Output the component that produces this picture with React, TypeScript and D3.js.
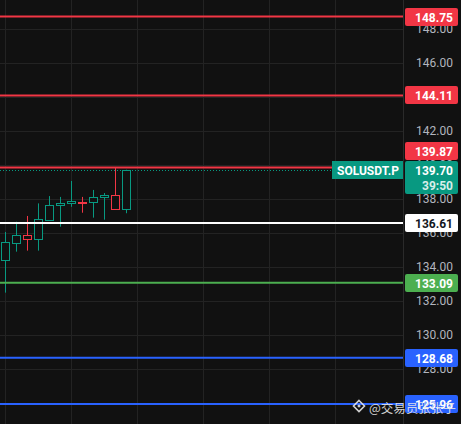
import React from "react";
import * as d3 from "d3";

// ---- data ----
const candleIndex = [0, 1, 2, 3, 4, 5, 6, 7, 8, 9, 10, 11];
const opens = [134.45, 135.45, 135.88, 135.65, 136.8, 137.65, 137.76, 137.86, 137.82, 138.12, 138.24, 137.43];
const highs = [136.08, 136.68, 137.02, 137.76, 138.19, 138.14, 139.08, 138.14, 138.55, 138.37, 139.87, 139.74];
const lows = [132.51, 134.92, 134.98, 134.98, 136.8, 136.39, 137.56, 137.21, 136.92, 136.8, 137.41, 137.18];
const closes = [135.47, 135.88, 135.65, 136.82, 137.65, 137.76, 137.88, 137.84, 138.12, 138.24, 137.41, 139.7];

const tickValues = [148, 146, 144, 142, 140, 138, 136, 134, 132, 130, 128, 126];
const timeGridIndex = [0, 6, 12, 18, 24, 30];

const levelValues = [148.75, 144.11, 139.87, 136.61, 133.09, 128.68, 125.96];
const levelKinds = ["red", "red", "red", "white", "green", "blue", "blue"];

const symbol = "SOLUSDT.P";
const lastPrice = 139.7;
const countdown = "39:50";
const watermark = "@交易员张张子";

// ---- styles ----
const W = 461;
const H = 424;
const PLOT_R = 403;
const BG = "#111111";
const GRID = "#232323";
const UP = "#089981";
const DOWN = "#f23645";
const KIND_COLORS: Record<string, { fill: string; text: string }> = {
  red: { fill: "#f23645", text: "#ffffff" },
  white: { fill: "#ffffff", text: "#131722" },
  green: { fill: "#4caf50", text: "#ffffff" },
  blue: { fill: "#2962ff", text: "#ffffff" },
};
const FONT = "Roboto, 'Noto Sans', sans-serif";

export default function App() {
  const y = d3.scaleLinear().domain([148, 128]).range([29.3, 369.3]);
  const x = d3.scaleLinear().domain([0, 1]).range([5.5, 16.5]);
  const fmt = d3.format(".2f");

  const lastY = y(lastPrice);
  const curTop = Math.round(lastY) - 9;
  const curH = 33;

  const labelH = 18;
  const levelLabels = levelValues.map((v, i) => {
    let cy = Math.round(y(v));
    let top = cy - labelH / 2;
    // avoid overlap with current price box
    if (top + labelH > curTop && top < curTop + curH) {
      top = curTop - labelH - 1;
    }
    return { v, kind: levelKinds[i], ly: Math.round(y(v)), top };
  });

  return (
    <svg
      width={W}
      height={H}
      style={{ position: "fixed", left: 0, top: 0, display: "block" }}
      fontFamily={FONT}
    >
      <rect x={0} y={0} width={W} height={H} fill={BG} />
      {/* grid */}
      {tickValues.map((t) => (
        <line key={"hg" + t} x1={0} x2={PLOT_R} y1={Math.round(y(t)) + 0.5} y2={Math.round(y(t)) + 0.5} stroke={GRID} strokeWidth={1} />
      ))}
      {timeGridIndex.map((i) => (
        <line key={"vg" + i} x1={x(i)} x2={x(i)} y1={0} y2={H} stroke={GRID} strokeWidth={1} />
      ))}
      <line x1={PLOT_R + 0.5} x2={PLOT_R + 0.5} y1={0} y2={H} stroke="#2a2a2a" strokeWidth={1} />

      {/* axis tick labels */}
      {tickValues.map((t) => (
        <text key={"tl" + t} x={453} y={y(t)} textAnchor="end" dominantBaseline="central" fontSize={12} fill="#b2b5be">
          {fmt(t)}
        </text>
      ))}

      {/* candles */}
      {candleIndex.map((i) => {
        const o = opens[i], c = closes[i], h = highs[i], l = lows[i];
        const col = c >= o ? UP : DOWN;
        const cx = x(i);
        const top = Math.round(y(Math.max(o, c))) + 0.5;
        const bot = Math.round(y(Math.min(o, c))) + 0.5;
        return (
          <g key={"c" + i}>
            <line x1={cx} x2={cx} y1={y(h)} y2={y(l)} stroke={col} strokeWidth={1} />
            <rect x={cx - 4} y={top} width={8} height={Math.max(bot - top, 1)} fill={BG} stroke={col} strokeWidth={1} />
          </g>
        );
      })}

      {/* current price dotted line */}
      <line x1={0} x2={332} y1={Math.round(lastY) + 0.5} y2={Math.round(lastY) + 0.5} stroke={UP} strokeWidth={1} strokeDasharray="1 2" />

      {/* level lines */}
      {levelLabels.map((d) => (
        <line key={"lv" + d.v} x1={0} x2={PLOT_R} y1={y(d.v)} y2={y(d.v)} stroke={KIND_COLORS[d.kind].fill} strokeWidth={2} />
      ))}

      {/* symbol label */}
      <rect x={332} y={curTop} width={71} height={labelH} fill={UP} />
      <text x={337} y={curTop + labelH / 2 + 0.5} dominantBaseline="central" fontSize={12} fontWeight="bold" fill="#ffffff">
        {symbol}
      </text>

      {/* level labels */}
      {levelLabels.map((d) => (
        <g key={"ll" + d.v}>
          <rect x={405} y={d.top} width={53} height={labelH} rx={2} fill={KIND_COLORS[d.kind].fill} />
          <text x={453} y={d.top + labelH / 2 + 0.5} textAnchor="end" dominantBaseline="central" fontSize={12} fontWeight="bold" fill={KIND_COLORS[d.kind].text}>
            {fmt(d.v)}
          </text>
        </g>
      ))}

      {/* current price label */}
      <rect x={405} y={curTop} width={53} height={curH} rx={2} fill={UP} />
      <text x={453} y={curTop + 9.5} textAnchor="end" dominantBaseline="central" fontSize={12} fontWeight="bold" fill="#ffffff">
        {fmt(lastPrice)}
      </text>
      <text x={453} y={curTop + 25} textAnchor="end" dominantBaseline="central" fontSize={12} fontWeight="bold" fill="#ffffff" fillOpacity={0.85}>
        {countdown}
      </text>

      {/* watermark */}
      <g transform="translate(359,406)" fill="none" stroke="#e8e8e8" strokeWidth={1.6} opacity={0.9}>
        <path d="M0,-5.5 L5.5,0 L0,5.5 L-5.5,0 Z" />
        <path d="M0,-1.8 L1.8,0 L0,1.8 L-1.8,0 Z" fill="#e8e8e8" stroke="none" />
      </g>
      <text x={369} y={407} dominantBaseline="central" fontSize={12.5} fill="#e8e8e8" fillOpacity={0.9} fontFamily="'Noto Sans CJK SC', sans-serif">
        {watermark}
      </text>
    </svg>
  );
}
